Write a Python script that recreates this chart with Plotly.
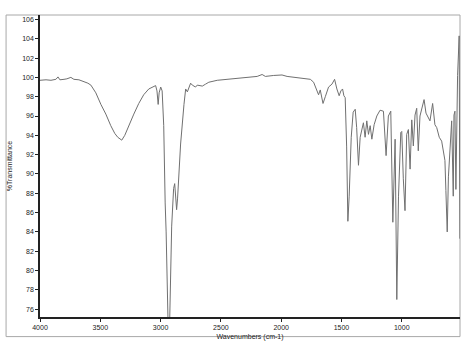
import plotly.graph_objects as go

# IR spectrum
wavenumber = [
    4000, 3950, 3909, 3868, 3851, 3835, 3801, 3777, 3744, 3719, 3677, 3636, 3603, 3578,
    3537, 3495, 3454, 3413, 3380, 3355, 3322, 3297, 3272, 3222, 3181, 3140, 3098, 3057,
    3041, 3030, 3020, 3012, 2999, 2987, 2974, 2962, 2958, 2954, 2937, 2925, 2908, 2892,
    2883, 2875, 2867, 2859, 2834, 2806, 2792, 2778, 2751, 2737, 2710, 2696, 2682, 2654,
    2627, 2600, 2530, 2420, 2338, 2255, 2199, 2158, 2131, 2062, 1993, 1951, 1868, 1758,
    1731, 1703, 1690, 1676, 1653, 1634, 1607, 1579, 1557, 1538, 1519, 1505, 1491, 1480,
    1469, 1457, 1447, 1436, 1419, 1403, 1386, 1374, 1359, 1345, 1331, 1318, 1304, 1290,
    1276, 1262, 1248, 1229, 1207, 1180, 1152, 1130, 1111, 1091, 1074, 1061, 1055, 1041,
    1027, 1008, 1000, 987, 973, 959, 945, 931, 917, 904, 890, 876, 863, 849, 821, 815,
    799, 780, 766, 744, 733, 725, 710, 697, 689, 669, 656, 642, 634, 623, 613, 600, 586,
    573, 567, 559, 551, 537, 524, 518,
]
transmittance = [
    99.7, 99.75, 99.7, 99.8, 100.05, 99.75, 99.8, 99.85, 100.0, 99.8, 99.75, 99.6, 99.4, 99.2,
    98.4, 97.2, 96.2, 95.0, 94.2, 93.8, 93.5, 94.0, 94.8, 96.2, 97.3, 98.2, 98.8, 99.1,
    99.15, 98.6, 97.2, 98.4, 99.0, 98.6, 95.0, 87.0, 86.0, 84.0, 74.0, 74.5, 84.6, 88.5,
    89.0, 88.0, 86.3, 87.5, 93.1, 97.2, 98.8, 98.5, 99.4, 99.2, 99.0, 99.2, 99.15, 99.1,
    99.3, 99.5, 99.7, 99.85, 99.9, 100.0, 100.1, 100.3, 100.1, 100.2, 100.25, 100.1, 100.0, 99.8,
    99.5, 98.5, 98.2, 98.7, 97.3, 98.0, 99.0, 99.3, 99.8, 98.8, 98.1, 98.6, 98.8, 98.1,
    97.9, 92.8, 85.1, 87.7, 93.8, 96.4, 96.7, 94.8, 90.9, 93.8, 94.6, 95.3, 93.8, 95.5,
    94.1, 95.0, 93.6, 95.1, 96.0, 96.6, 96.5, 91.9, 96.0, 96.5, 85.0, 91.7, 93.6, 77.0,
    87.7, 94.3, 94.4, 89.5, 86.2, 94.1, 94.6, 90.5, 95.6, 92.9, 96.1, 96.8, 92.4, 96.0, 97.5, 97.7,
    96.3, 95.8, 95.5, 97.3, 96.3, 95.1, 94.8, 94.3, 93.8, 93.4, 92.4, 91.4, 88.3, 84.0, 89.7, 92.7, 95.5,
    87.7, 96.1, 96.5, 88.4, 100.2, 104.3, 83.3,
]

x_ticks = [4000, 3500, 3000, 2500, 2000, 1500, 1000]
y_ticks = list(range(76, 107, 2))

font = dict(family="Liberation Sans, Arial, sans-serif", size=7, color="#222")

fig = go.Figure()
fig.add_trace(go.Scatter(
    x=wavenumber, y=transmittance, mode="lines",
    line=dict(color="#707070", width=1), showlegend=False,
))

fig.update_layout(
    width=468, height=348,
    margin=dict(l=39, r=8, t=15, b=25),
    paper_bgcolor="white", plot_bgcolor="white",
    font=font,
    xaxis=dict(
        range=[4000, 517], tickvals=x_ticks, ticktext=[str(v) for v in x_ticks],
        showgrid=False, zeroline=False, showline=True, linecolor="#222", linewidth=1.5,
        ticks="outside", ticklen=3, tickcolor="#222", tickfont=font,
        title=dict(text="Wavenumbers (cm-1)", font=font, standoff=4),
    ),
    yaxis=dict(
        range=[75.19, 106.46], tickvals=y_ticks, ticktext=[str(v) for v in y_ticks],
        showgrid=False, zeroline=False, showline=True, linecolor="#222", linewidth=1.5,
        ticks="outside", ticklen=3, tickcolor="#222", tickfont=font,
        title=dict(text="%Transmittance", font=font, standoff=9),
    ),
    shapes=[
        dict(type="rect", xref="paper", yref="paper", x0=-0.0808, x1=1.0, y0=-0.0649, y1=1.0,
             line=dict(color="#a8a8a8", width=1), fillcolor="rgba(0,0,0,0)", layer="below"),
    ],
)

fig.write_html("out.html")
